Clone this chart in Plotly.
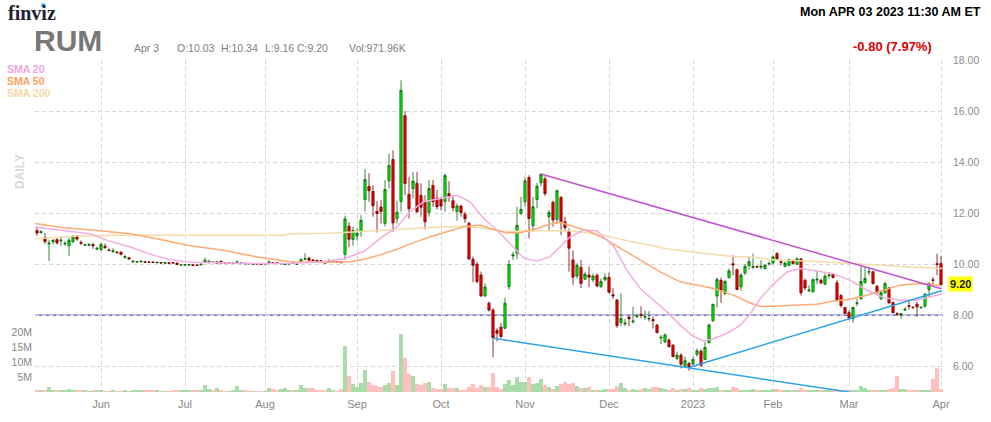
import numpy as np
import pandas as pd
import plotly.graph_objects as go

# ---------------- data ----------------
holidays = ['2022-05-30', '2022-06-20', '2022-07-04', '2022-09-05', '2022-11-24',
            '2022-12-26', '2023-01-02', '2023-01-16', '2023-02-20']
dates = [d for d in pd.bdate_range('2022-05-09', '2023-04-03')
         if d.strftime('%Y-%m-%d') not in holidays]

opens = [11.33, 11.25, 11.05, 10.80, 10.89, 10.97, 10.92, 10.80, 10.73, 10.89,
         11.12, 10.86, 10.75, 10.75, 10.78, 10.60, 10.58, 10.71, 10.56, 10.50,
         10.48, 10.47, 10.27, 10.26, 10.10, 10.09, 10.10, 10.10, 10.09, 10.09,
         10.06, 10.07, 10.04, 10.06, 10.07, 10.05, 9.97, 9.97, 9.97, 9.98,
         9.97, 9.98, 10.08, 10.09, 10.09, 10.03, 10.12, 10.06, 10.05, 10.04,
         10.07, 10.05, 10.04, 10.03, 9.99, 10.02, 10.02, 10.01, 10.07, 10.06,
         10.06, 10.02, 9.99, 10.01, 10.06, 10.00, 10.10, 10.20, 10.24, 10.17,
         10.15, 10.14, 10.10, 10.09, 10.10, 10.11, 10.09, 10.39, 11.50, 10.98,
         11.12, 11.28, 12.55, 13.06, 12.86, 12.08, 12.25, 11.61, 13.28, 14.12,
         11.79, 12.47, 15.84, 12.75, 12.97, 13.18, 12.71, 12.44, 12.04, 13.10,
         12.60, 12.55, 12.47, 12.78, 12.50, 12.08, 12.29, 11.97, 11.61, 10.20,
         10.00, 9.58, 8.76, 8.47, 8.20, 7.40, 7.53, 7.49, 9.12, 10.33,
         10.43, 12.00, 12.46, 13.41, 11.52, 12.55, 13.20, 13.35, 11.87, 12.44,
         11.76, 12.63, 11.67, 11.28, 10.17, 9.54, 9.88, 9.41, 9.58, 9.39,
         9.57, 9.12, 9.39, 9.49, 8.80, 8.60, 7.71, 7.66, 7.93, 7.74,
         7.95, 8.03, 7.92, 7.85, 7.83, 7.61, 7.10, 6.95, 7.02, 6.82,
         6.30, 6.43, 6.00, 6.10, 6.08, 6.46, 6.58, 6.26, 6.92, 7.78,
         8.75, 9.37, 8.85, 9.48, 10.02, 9.79, 9.11, 9.66, 9.95, 9.88,
         9.91, 9.89, 9.83, 10.01, 10.05, 10.42, 10.10, 9.92, 9.96, 10.12,
         10.00, 10.21, 9.37, 8.96, 8.92, 9.38, 9.37, 9.22, 9.55, 9.61,
         9.27, 8.77, 8.30, 8.10, 7.86, 8.46, 8.65, 9.29, 9.69, 9.71,
         9.14, 8.65, 8.88, 9.07, 8.50, 8.06, 8.01, 8.20, 8.37, 8.31,
         8.43, 8.29, 8.35, 9.00, 9.39, 10.02, 10.03]
highs = [11.49, 11.33, 11.23, 10.97, 10.99, 11.02, 11.10, 10.92, 11.05, 11.15,
         11.15, 10.94, 10.81, 10.84, 10.84, 10.68, 10.84, 10.81, 10.63, 10.63,
         10.52, 10.52, 10.37, 10.29, 10.16, 10.13, 10.15, 10.13, 10.12, 10.12,
         10.10, 10.09, 10.08, 10.08, 10.09, 10.07, 10.00, 10.00, 10.01, 10.00,
         9.99, 10.02, 10.26, 10.18, 10.12, 10.12, 10.14, 10.08, 10.09, 10.08,
         10.16, 10.08, 10.06, 10.05, 10.02, 10.04, 10.03, 10.05, 10.16, 10.08,
         10.08, 10.05, 10.03, 10.05, 10.08, 10.03, 10.26, 10.44, 10.29, 10.20,
         10.18, 10.17, 10.12, 10.21, 10.14, 10.13, 10.13, 11.91, 11.65, 11.48,
         11.41, 11.93, 13.74, 13.58, 13.11, 12.48, 12.52, 13.31, 14.35, 14.48,
         12.50, 17.23, 16.03, 13.44, 13.63, 13.63, 13.18, 12.72, 13.31, 13.31,
         12.92, 12.65, 13.57, 13.27, 12.68, 12.39, 12.34, 12.07, 11.67, 10.30,
         10.10, 9.71, 9.25, 8.54, 8.27, 7.49, 7.69, 8.69, 10.17, 10.50,
         12.26, 12.65, 13.44, 13.50, 12.65, 13.20, 13.57, 13.46, 12.13, 12.50,
         12.94, 12.68, 11.87, 11.41, 10.54, 10.04, 10.17, 9.71, 9.91, 9.63,
         9.65, 9.44, 9.64, 9.67, 9.06, 8.63, 8.85, 7.86, 7.95, 8.33,
         8.05, 8.35, 8.18, 8.16, 7.96, 7.65, 7.22, 7.29, 7.09, 6.86,
         6.56, 6.50, 6.37, 6.17, 6.37, 6.69, 6.67, 6.95, 7.67, 8.46,
         9.48, 9.48, 9.37, 9.83, 10.35, 9.83, 9.66, 10.00, 10.30, 10.42,
         9.95, 10.16, 10.00, 10.12, 10.35, 10.48, 10.18, 10.10, 10.22, 10.18,
         10.27, 10.26, 9.44, 9.18, 9.44, 9.76, 9.44, 9.64, 9.70, 9.64,
         9.38, 8.83, 8.33, 8.20, 8.35, 8.65, 10.03, 9.90, 9.90, 9.74,
         9.18, 8.98, 9.31, 9.11, 8.53, 8.12, 8.08, 8.31, 8.60, 8.34,
         8.52, 8.33, 8.87, 9.30, 9.50, 10.42, 10.34]
lows = [11.12, 11.20, 10.81, 10.13, 10.78, 10.78, 10.73, 10.73, 10.33, 10.84,
        10.92, 10.76, 10.73, 10.72, 10.60, 10.55, 10.52, 10.60, 10.52, 10.44,
        10.42, 10.35, 10.22, 10.18, 10.05, 10.06, 10.07, 10.06, 10.06, 10.05,
        10.04, 10.03, 10.02, 10.02, 10.03, 9.97, 9.95, 9.95, 9.95, 9.93,
        9.94, 9.96, 10.05, 10.03, 10.05, 10.01, 10.03, 10.03, 10.03, 10.02,
        10.03, 10.03, 10.00, 10.00, 9.97, 9.99, 9.98, 9.99, 10.03, 10.03,
        10.02, 10.00, 9.97, 9.99, 10.02, 9.98, 10.07, 10.16, 10.13, 10.13,
        10.11, 10.10, 10.03, 10.05, 10.07, 10.07, 10.03, 10.17, 10.67, 10.73,
        10.93, 11.08, 12.07, 12.46, 11.87, 11.25, 11.61, 11.48, 12.99, 11.28,
        11.61, 12.07, 12.71, 11.80, 12.59, 12.00, 11.87, 11.37, 11.87, 12.26,
        12.16, 12.13, 12.07, 12.46, 12.07, 11.71, 11.87, 11.63, 10.17, 9.29,
        9.25, 8.71, 8.71, 8.14, 6.34, 6.97, 7.10, 7.45, 8.99, 10.17,
        10.20, 11.93, 12.26, 11.02, 11.28, 12.20, 13.07, 12.68, 11.35, 11.48,
        11.58, 11.15, 11.32, 9.71, 9.19, 9.44, 9.06, 9.39, 9.10, 9.29,
        9.10, 9.08, 9.33, 8.86, 8.64, 7.50, 7.57, 7.57, 7.57, 7.66,
        7.88, 7.88, 7.82, 7.74, 7.48, 7.31, 6.86, 6.91, 6.73, 6.35,
        6.24, 5.91, 5.97, 5.82, 6.04, 6.37, 5.98, 6.24, 6.89, 7.74,
        8.30, 8.48, 8.78, 9.44, 9.57, 8.98, 8.96, 9.57, 9.80, 9.80,
        9.86, 9.80, 9.80, 9.95, 10.00, 10.16, 9.95, 9.88, 9.92, 10.00,
        9.97, 8.77, 8.98, 8.90, 8.88, 9.22, 9.22, 9.18, 9.44, 9.44,
        8.52, 8.30, 8.04, 7.80, 7.70, 8.35, 8.59, 9.23, 9.57, 9.21,
        8.85, 8.59, 8.85, 8.46, 8.06, 7.97, 7.87, 8.16, 8.22, 8.25,
        7.93, 8.25, 8.30, 8.72, 9.18, 9.57, 9.16]
closes = [11.23, 11.28, 10.89, 10.83, 10.94, 10.84, 10.95, 10.82, 10.94, 11.10,
          10.99, 10.83, 10.77, 10.77, 10.73, 10.63, 10.78, 10.66, 10.54, 10.53,
          10.46, 10.39, 10.30, 10.21, 10.12, 10.10, 10.12, 10.08, 10.08, 10.07,
          10.08, 10.05, 10.06, 10.04, 10.05, 9.99, 9.98, 9.98, 9.99, 9.95,
          9.96, 10.00, 10.16, 10.11, 10.07, 10.10, 10.05, 10.05, 10.07, 10.06,
          10.09, 10.06, 10.02, 10.02, 10.00, 10.01, 10.00, 10.03, 10.09, 10.05,
          10.04, 10.03, 10.01, 10.03, 10.04, 10.01, 10.18, 10.22, 10.16, 10.15,
          10.13, 10.12, 10.05, 10.11, 10.12, 10.09, 10.07, 11.78, 10.98, 11.33,
          11.23, 11.73, 13.33, 12.89, 12.30, 11.99, 12.08, 12.94, 13.88, 11.63,
          12.04, 16.84, 13.18, 12.18, 13.27, 12.07, 12.24, 11.67, 12.98, 12.46,
          12.26, 12.29, 13.49, 12.68, 12.22, 12.29, 12.03, 11.79, 10.21, 9.96,
          9.32, 8.76, 9.11, 8.20, 7.12, 7.29, 7.16, 8.47, 10.00, 10.37,
          11.53, 12.16, 13.28, 11.80, 12.26, 13.07, 13.54, 12.78, 12.04, 11.74,
          12.89, 11.67, 11.44, 10.63, 9.49, 9.96, 9.25, 9.61, 9.49, 9.54,
          9.15, 9.33, 9.49, 8.90, 8.76, 7.59, 7.87, 7.69, 7.86, 7.77,
          7.97, 8.00, 7.94, 7.87, 7.78, 7.31, 7.13, 7.22, 6.76, 6.37,
          6.43, 6.07, 6.21, 5.95, 6.26, 6.60, 6.03, 6.73, 7.61, 8.42,
          9.40, 8.98, 9.33, 9.74, 9.98, 9.01, 9.57, 9.92, 10.10, 9.91,
          9.89, 9.92, 9.96, 10.03, 10.29, 10.22, 10.07, 10.05, 10.18, 10.03,
          10.22, 8.88, 9.07, 8.99, 9.40, 9.41, 9.27, 9.53, 9.58, 9.48,
          8.59, 8.38, 8.07, 7.90, 8.30, 8.48, 9.33, 9.44, 9.71, 9.24,
          8.88, 8.88, 9.24, 8.48, 8.10, 8.04, 8.06, 8.23, 8.35, 8.30,
          8.33, 8.31, 8.82, 9.24, 9.37, 10.00, 9.20]
volume_m = [0.5, 0.6, 0.8, 1.6, 0.7, 0.6, 0.5, 0.6, 0.9, 0.7,
            0.4, 0.4, 0.4, 0.3, 0.4, 0.4, 0.5, 0.3, 0.3, 0.6,
            0.3, 0.3, 0.4, 0.3, 0.7, 0.7, 0.7, 0.7, 0.4, 0.6,
            0.4, 0.3, 0.3, 0.3, 0.6, 0.6, 0.5, 0.4, 0.5, 0.6,
            0.5, 0.6, 2.2, 0.9, 0.4, 1.2, 0.7, 0.3, 0.3, 0.5,
            1.9, 0.6, 0.4, 0.3, 0.3, 0.3, 0.3, 0.3, 1.5, 1.0,
            0.8, 1.1, 1.2, 0.6, 0.4, 0.6, 2.2, 1.3, 1.2, 1.2,
            0.6, 0.6, 0.4, 1.2, 0.8, 0.3, 1.0, 15.2, 5.5, 2.7,
            1.6, 3.1, 7.3, 3.4, 2.3, 2.0, 1.8, 2.4, 3.1, 7.0,
            2.4, 19.3, 11.4, 5.9, 5.4, 2.7, 2.4, 2.9, 3.3, 1.4,
            0.9, 1.1, 2.7, 1.4, 1.4, 1.3, 0.4, 0.7, 1.8, 2.7,
            1.4, 2.2, 1.6, 1.6, 6.2, 1.8, 1.1, 2.7, 4.0, 2.4,
            4.9, 3.3, 3.3, 4.9, 2.7, 3.1, 4.4, 2.2, 1.6, 1.1,
            2.0, 2.7, 3.3, 2.7, 2.9, 2.0, 1.3, 1.3, 1.6, 0.7,
            0.4, 0.7, 0.9, 0.9, 1.1, 2.1, 3.0, 1.2, 0.7, 1.0,
            0.8, 1.0, 1.3, 1.1, 1.6, 1.6, 1.2, 0.9, 0.8, 1.2,
            0.7, 0.9, 0.9, 1.2, 0.7, 0.7, 1.2, 0.9, 1.2, 1.3,
            1.6, 0.8, 0.7, 0.7, 1.6, 1.2, 0.7, 0.7, 0.8, 0.9,
            0.6, 0.7, 0.6, 0.7, 1.1, 1.0, 0.6, 0.6, 0.7, 0.6,
            0.7, 1.4, 0.7, 0.6, 0.7, 0.6, 0.5, 0.6, 0.5, 0.5,
            0.9, 0.8, 0.7, 0.7, 0.7, 0.7, 2.1, 1.2, 0.7, 0.7,
            0.7, 0.7, 0.5, 0.9, 1.2, 5.4, 1.1, 0.9, 0.7, 0.5,
            0.7, 0.5, 0.7, 0.7, 4.3, 8.1, 0.97]

# moving averages (trading-day position, value)
sma20_pos = [-0.5, 6.7, 13.3, 17.5, 23.3, 29.2, 33.3, 38.3, 46.7, 55, 63.3, 70,
             76.7, 81.7, 85.8, 90, 93.3, 96.7, 100.8, 105, 108.3, 111.7, 115,
             118.3, 121.7, 125, 128.3, 130.8, 133.3, 136.7, 140, 144.2, 147.5,
             150.8, 154.2, 157.5, 160.8, 164.2, 166.7, 169.2, 172.5, 175.8,
             178.3, 180.8, 184.2, 187.5, 190.8, 195, 199.2, 203.3, 207.5,
             211.7, 215.8, 220, 223.3, 226.3]
sma20_val = [11.46, 11.33, 11.20, 10.94, 10.68, 10.35, 10.18, 10.08, 10.05, 10.03,
             10.04, 10.08, 10.22, 10.50, 11.02, 11.48, 12.07, 12.46, 12.59, 12.71,
             12.45, 11.80, 11.35, 10.82, 10.24, 10.13, 10.30, 10.69, 11.08, 11.35,
             11.32, 10.70, 9.76, 9.05, 8.59, 8.13, 7.61, 7.15, 6.99, 7.08, 7.28,
             7.60, 8.05, 8.65, 9.24, 9.70, 9.83, 9.74, 9.63, 9.37, 8.98, 8.69,
             8.59, 8.59, 8.72, 8.84]
sma50_pos = [-0.5, 6.7, 15, 23.3, 30, 37.5, 46.7, 55, 63.3, 71.7, 78.3, 81.7,
             85.8, 90, 94.2, 98.3, 102.5, 106.7, 110.8, 113.3, 117.5, 120.8, 125,
             128.3, 130.8, 134.2, 138.3, 141.7, 145.8, 150.8, 155.8, 160.8, 164.2,
             169.2, 174.2, 178.3, 180.8, 184.2, 189.2, 195, 199.2, 203.3, 207.5,
             211.7, 215.8, 220, 223.3, 226.3]
sma50_val = [11.60, 11.44, 11.33, 11.20, 11.00, 10.75, 10.55, 10.29, 10.10, 10.08,
             10.10, 10.20, 10.37, 10.59, 10.85, 11.08, 11.28, 11.48, 11.54, 11.41,
             11.24, 11.24, 11.41, 11.58, 11.65, 11.48, 11.28, 11.02, 10.64, 10.16,
             9.70, 9.31, 9.20, 9.05, 8.78, 8.48, 8.35, 8.35, 8.39, 8.43, 8.56,
             8.63, 8.78, 8.98, 9.18, 9.24, 9.22, 9.16]
sma200_pos = [-0.5, 10, 20, 40, 62, 63, 73.3, 90, 98.3, 106.7, 110.8, 116.7, 125,
              133.3, 141.7, 145.8, 149.2, 157.5, 165.8, 174.2, 178.3, 184.2,
              192.5, 200.8, 209.2, 217.5, 226.3]
sma200_val = [11.00, 11.11, 11.14, 11.14, 11.14, 11.20, 11.22, 11.37, 11.45, 11.50,
              11.44, 11.28, 11.32, 11.32, 11.15, 10.98, 10.88, 10.61, 10.44, 10.31,
              10.29, 10.18, 10.13, 10.05, 9.96, 9.90, 9.83]

# trend lines drawn on the chart (trading-day position, price)
trend_purple_pos = [126.0, 226.1]
trend_purple_val = [13.55, 9.04]
trend_blue_down_pos = [114.2, 203.3]
trend_blue_down_val = [7.09, 4.97]
trend_blue_up_pos = [163.3, 226.15]
trend_blue_up_val = [5.96, 8.96]
hline_level = 8.00

month_labels = ['Jun', 'Jul', 'Aug', 'Sep', 'Oct', 'Nov', 'Dec', '2023', 'Feb', 'Mar', 'Apr']
price_ticks = [6, 8, 10, 12, 14, 16, 18]
vol_ticks = [5, 10, 15, 20]

# ---------------- figure ----------------
W, H = 991, 422
ML, MR, MT, MB = 35, 48, 60, 30
PW, PH = W - ML - MR, H - MT - MB


def P(px, py):
    return (px - ML) / PW, (H - MB - py) / PH


idx = list(range(len(dates)))
tickvals = [i for i in range(1, len(dates)) if dates[i].month != dates[i - 1].month]
vol_colors = ['#aadcaa' if c >= o else '#ffbfbf' for o, c in zip(opens, closes)]

fig = go.Figure()
fig.add_trace(go.Bar(x=idx, y=volume_m, marker_color=vol_colors, marker_line_width=0,
                     width=1.0, yaxis='y', hoverinfo='skip'))
fig.add_trace(go.Scatter(x=sma200_pos, y=sma200_val, mode='lines', yaxis='y2',
                         line=dict(color='#f5dcaa', width=1.5)))
fig.add_trace(go.Scatter(x=sma50_pos, y=sma50_val, mode='lines', yaxis='y2',
                         line=dict(color='#ffaa70', width=1.5)))
fig.add_trace(go.Scatter(x=sma20_pos, y=sma20_val, mode='lines', yaxis='y2',
                         line=dict(color='#f4addf', width=1.5)))
fig.add_trace(go.Candlestick(
    x=idx, open=opens, high=highs, low=lows, close=closes, yaxis='y2',
    whiskerwidth=0,
    increasing=dict(line=dict(color='#0a640a', width=0.8), fillcolor='#00f000'),
    decreasing=dict(line=dict(color='#7a0000', width=0.8), fillcolor='#f20000'),
))
fig.add_trace(go.Scatter(x=trend_purple_pos, y=trend_purple_val, mode='lines', yaxis='y2',
                         line=dict(color='#c152d4', width=1.5)))
fig.add_trace(go.Scatter(x=trend_blue_down_pos, y=trend_blue_down_val, mode='lines', yaxis='y2',
                         line=dict(color='#2ea3e8', width=1.5)))
fig.add_trace(go.Scatter(x=trend_blue_up_pos, y=trend_blue_up_val, mode='lines', yaxis='y2',
                         line=dict(color='#2ea3e8', width=1.5)))

grid = '#d6d6d6'
fig.update_layout(
    width=W, height=H, margin=dict(l=ML, r=MR, t=MT, b=MB, autoexpand=False),
    paper_bgcolor='white', plot_bgcolor='white', showlegend=False,
    bargap=0, boxgap=0.2,
    font=dict(family='Liberation Sans, Arial, sans-serif'),
    xaxis=dict(range=[-0.5, 226.5], tickvals=tickvals, ticktext=month_labels,
               showgrid=True, gridcolor=grid, griddash='4px,3px', gridwidth=1,
               zeroline=False, showline=False, ticks='', automargin=False,
               tickfont=dict(size=11, color='#888888'), ticklabelstandoff=4,
               rangeslider=dict(visible=False)),
    yaxis=dict(range=[0, PH / 3.0], tickvals=vol_ticks, ticktext=[f'{v}M' for v in vol_ticks],
               side='left', showgrid=False, zeroline=False, showline=False, ticks='',
               automargin=False,
               tickfont=dict(size=10.5, color='#888888'), ticklabelstandoff=2),
    yaxis2=dict(range=[4.98, 18.03], overlaying='y', side='right', tickvals=price_ticks,
                ticktext=[f'{v:.2f}' for v in price_ticks],
                showgrid=True, gridcolor=grid, griddash='4px,3px', gridwidth=1,
                zeroline=False, showline=False, ticks='', automargin=False,
                tickfont=dict(size=10.5, color='#8c8c8c'), ticklabelstandoff=9),
)

fig.add_shape(type='line', xref='paper', x0=0, x1=1, yref='y2', y0=hline_level, y1=hline_level,
              line=dict(color='#7070c4', width=1.5), layer='below')

ann = []


def text(px, py, s, size, color, xanchor='left', bold=False, family=None, **kw):
    x, y = P(px, py)
    d = dict(x=x, y=y, xref='paper', yref='paper', text=(f'<b>{s}</b>' if bold else s),
             showarrow=False, xanchor=xanchor, yanchor='middle',
             font=dict(size=size, color=color,
                       family=family or 'Liberation Sans, Arial, sans-serif'))
    d.update(kw)
    ann.append(d)


text(6, 13, 'finviz', 20, '#1d2433', bold=True, family='Liberation Serif, serif')
text(32, 41, 'RUM', 30, '#777777', bold=True)
text(132, 48, 'Apr 3', 10.5, '#808080')
text(175, 48, 'O:10.03', 10.5, '#808080')
text(219, 48, 'H:10.34', 10.5, '#808080')
text(263, 48, 'L:9.16', 10.5, '#808080')
text(295, 48, 'C:9.20', 10.5, '#808080')
text(347, 48, 'Vol:971.96K', 10.5, '#808080')
text(983, 12, 'Mon APR 03 2023 11:30 AM ET', 12.5, '#000000', xanchor='right', bold=True)
text(934, 47, '-0.80 (7.97%)', 13, '#dd0000', xanchor='right', bold=True)
text(5, 69, 'SMA 20', 10.5, '#f2a3dc', bold=True)
text(5, 81, 'SMA 50', 10.5, '#ff9f5f', bold=True)
text(5, 93, 'SMA 200', 10.5, '#f3d9a4', bold=True)
text(20, 172, 'DAILY', 12, '#dadada', xanchor='center', bold=True, textangle=-90)
text(960.5, 284, '9.20', 11, '#222222', xanchor='center', bold=True,
     bgcolor='#ffff00', borderpad=1)
fig.update_layout(annotations=ann)

# blue dot of the logo
cx, cy = P(43.3, 5.5)
rx, ry = 2.2 / PW, 2.2 / PH
fig.add_shape(type='circle', xref='paper', yref='paper', x0=cx - rx, x1=cx + rx,
              y0=cy - ry, y1=cy + ry, fillcolor='#3a9ff0', line=dict(width=0))

fig.write_html('out.html', config={'displayModeBar': False},
               post_script="document.body.style.margin='0px';document.body.style.overflow='hidden';")
